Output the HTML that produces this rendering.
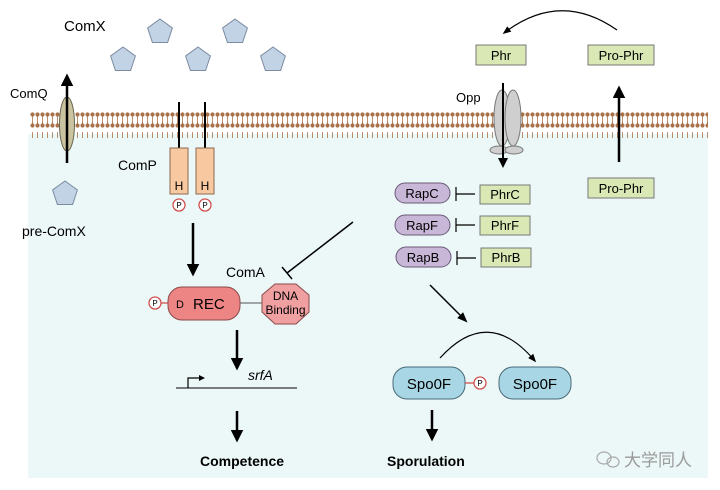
<!DOCTYPE html>
<html><head><meta charset="utf-8"><style>
body{margin:0;background:#fff}
svg{display:block;font-family:"Liberation Sans","Noto Sans CJK SC",sans-serif}
</style></head><body>
<svg width="720" height="490" viewBox="0 0 720 490" xmlns="http://www.w3.org/2000/svg">
<defs>
<pattern id="lipT" x="0" y="0" width="5" height="16" patternUnits="userSpaceOnUse">
<circle cx="2.5" cy="2.5" r="2.1" fill="#a8724a"/><line x1="2.5" y1="4" x2="2.5" y2="12" stroke="#a8724a" stroke-width="0.8"/>
</pattern>
<pattern id="lipB" x="0" y="0" width="5" height="16" patternUnits="userSpaceOnUse">
<circle cx="2.5" cy="13.5" r="2.1" fill="#a8724a"/><line x1="2.5" y1="4" x2="2.5" y2="12" stroke="#a8724a" stroke-width="0.8"/>
</pattern>
<marker id="ah" viewBox="0 0 10 10" refX="8" refY="5" markerWidth="5" markerHeight="5" orient="auto"><path d="M0,0L10,5L0,10z" fill="#000"/></marker>
<marker id="ahs" viewBox="0 0 10 10" refX="8" refY="5" markerWidth="7" markerHeight="7" orient="auto"><path d="M0,1L10,5L0,9z" fill="#000"/></marker>
<polygon id="pent" points="0,-13 12.4,-4 7.6,10.5 -7.6,10.5 -12.4,-4" fill="#c3d3e6" stroke="#7b8ba0" stroke-width="1"/>
</defs>
<rect x="28" y="134" width="680" height="344" fill="#ebf8f7"/>
<rect x="30" y="111" width="678" height="16" fill="url(#lipT)"/>
<rect x="30" y="122" width="678" height="16" fill="url(#lipB)"/>

<text x="64" y="31" font-size="15">ComX</text>
<use href="#pent" x="160" y="32"/><use href="#pent" x="235" y="32"/>
<use href="#pent" x="123" y="60"/><use href="#pent" x="198" y="60"/><use href="#pent" x="273" y="60"/>
<text x="10" y="98" font-size="13">ComQ</text>
<ellipse cx="67" cy="124" rx="7.5" ry="27" fill="#c9c3a0" stroke="#6b6650"/>
<line x1="67" y1="163" x2="67" y2="76" stroke="#000" stroke-width="2.5" marker-end="url(#ah)"/>
<use href="#pent" x="65" y="194"/>
<text x="22" y="236" font-size="14">pre-ComX</text>

<text x="118" y="170" font-size="14">ComP</text>
<line x1="179" y1="102" x2="179" y2="148" stroke="#000" stroke-width="2"/>
<line x1="205" y1="102" x2="205" y2="148" stroke="#000" stroke-width="2"/>
<rect x="170" y="148" width="18" height="46" fill="#f8c8a0" stroke="#8a6a50"/>
<rect x="196" y="148" width="18" height="46" fill="#f8c8a0" stroke="#8a6a50"/>
<text x="179" y="190" font-size="12" text-anchor="middle">H</text>
<text x="205" y="190" font-size="12" text-anchor="middle">H</text>
<g fill="#fff" stroke="#d05050" stroke-width="1.3"><circle cx="179" cy="205" r="6"/><circle cx="205" cy="205" r="6"/></g>
<g font-size="8" text-anchor="middle"><text x="179" y="208">P</text><text x="205" y="208">P</text></g>
<line x1="193" y1="223" x2="193" y2="274" stroke="#000" stroke-width="2.5" marker-end="url(#ah)"/>

<text x="226" y="277" font-size="14">ComA</text>
<line x1="353" y1="222" x2="287" y2="273" stroke="#000" stroke-width="1.5"/>
<line x1="282" y1="267" x2="292" y2="279" stroke="#000" stroke-width="1.5"/>
<circle cx="155" cy="303" r="6" fill="#fff" stroke="#d05050" stroke-width="1.3"/>
<text x="155" y="306" font-size="8" text-anchor="middle">P</text>
<line x1="161" y1="303" x2="168" y2="303" stroke="#d05050" stroke-width="1.3"/>
<rect x="168" y="287" width="72" height="33" rx="14" fill="#ee8585" stroke="#8a4a4a"/>
<text x="176" y="308" font-size="11">D</text>
<text x="193" y="309" font-size="15">REC</text>
<line x1="240" y1="303" x2="262" y2="303" stroke="#555"/>
<polygon points="262,295 275,284 296,284 309,295 309,312 296,324 275,324 262,312" fill="#f0a0a0" stroke="#8a4a4a"/>
<text x="285.5" y="300" font-size="12" text-anchor="middle">DNA</text>
<text x="285.5" y="314" font-size="12" text-anchor="middle">Binding</text>
<line x1="237" y1="330" x2="237" y2="368" stroke="#000" stroke-width="2.5" marker-end="url(#ah)"/>
<text x="248" y="380" font-size="14" font-style="italic">srfA</text>
<line x1="176" y1="388" x2="297" y2="388" stroke="#333" stroke-width="1.3"/>
<polyline points="188,388 188,378 200,378" fill="none" stroke="#000" stroke-width="1.2"/>
<path d="M199,375L205,378L199,381z" fill="#000"/>
<line x1="237" y1="411" x2="237" y2="440" stroke="#000" stroke-width="2.5" marker-end="url(#ah)"/>
<text x="200" y="466" font-size="14" font-weight="bold">Competence</text>

<path d="M617,30 Q560,-10 504,33" fill="none" stroke="#000" stroke-width="1.2" marker-end="url(#ahs)"/>
<rect x="476" y="45" width="50" height="20" fill="#d9e8b5" stroke="#777"/>
<text x="501" y="60" font-size="13" text-anchor="middle">Phr</text>
<rect x="588" y="45" width="66" height="20" fill="#d9e8b5" stroke="#777"/>
<text x="621" y="60" font-size="13" text-anchor="middle">Pro-Phr</text>
<text x="456" y="102" font-size="13">Opp</text>
<g fill="#cfcfcf" stroke="#777">
<ellipse cx="499" cy="150" rx="9" ry="4"/><ellipse cx="514" cy="150" rx="9" ry="4"/>
<ellipse cx="502" cy="118" rx="8" ry="28"/><ellipse cx="513" cy="118" rx="8" ry="28"/>
</g>
<line x1="503" y1="83" x2="503" y2="166" stroke="#000" stroke-width="2" marker-end="url(#ah)"/>
<line x1="619" y1="162" x2="619" y2="88" stroke="#000" stroke-width="2.5" marker-end="url(#ah)"/>
<rect x="588" y="178" width="66" height="20" fill="#d9e8b5" stroke="#777"/>
<text x="621" y="193" font-size="13" text-anchor="middle">Pro-Phr</text>

<g font-size="13" text-anchor="middle">
<rect x="395" y="183" width="55" height="20" rx="10" fill="#c9b7d8" stroke="#6a5a7a"/><text x="422" y="198">RapC</text>
<rect x="395" y="215" width="55" height="20" rx="10" fill="#c9b7d8" stroke="#6a5a7a"/><text x="422" y="230">RapF</text>
<rect x="396" y="247" width="55" height="20" rx="10" fill="#c9b7d8" stroke="#6a5a7a"/><text x="423" y="262">RapB</text>
<rect x="480" y="185" width="50" height="19" fill="#d9e8b5" stroke="#777"/><text x="505" y="199">PhrC</text>
<rect x="480" y="216" width="50" height="19" fill="#d9e8b5" stroke="#777"/><text x="505" y="230">PhrF</text>
<rect x="481" y="248" width="50" height="19" fill="#d9e8b5" stroke="#777"/><text x="506" y="262">PhrB</text>
</g>
<g stroke="#000" stroke-width="1.2">
<line x1="456" y1="194" x2="475" y2="194"/><line x1="456" y1="187" x2="456" y2="201"/>
<line x1="456" y1="225" x2="475" y2="225"/><line x1="456" y1="218" x2="456" y2="232"/>
<line x1="457" y1="258" x2="476" y2="258"/><line x1="457" y1="251" x2="457" y2="265"/>
</g>
<line x1="430" y1="285" x2="466" y2="321" stroke="#000" stroke-width="1.5" marker-end="url(#ahs)"/>

<path d="M440,358 Q488,305 535,361" fill="none" stroke="#000" stroke-width="1.2" marker-end="url(#ahs)"/>
<rect x="393" y="367" width="72" height="32" rx="14" fill="#a8d6e4" stroke="#4a6a7a"/>
<text x="429" y="389" font-size="15" text-anchor="middle">Spo0F</text>
<line x1="465" y1="383" x2="474" y2="383" stroke="#d05050" stroke-width="1.3"/>
<circle cx="480" cy="383" r="6" fill="#fff" stroke="#d05050" stroke-width="1.3"/>
<text x="480" y="386" font-size="8" text-anchor="middle">P</text>
<rect x="499" y="367" width="72" height="32" rx="14" fill="#a8d6e4" stroke="#4a6a7a"/>
<text x="535" y="389" font-size="15" text-anchor="middle">Spo0F</text>
<line x1="432" y1="410" x2="432" y2="439" stroke="#000" stroke-width="2.5" marker-end="url(#ah)"/>
<text x="387" y="466" font-size="14" font-weight="bold">Sporulation</text>

<g fill="none" stroke="#aaa" stroke-width="1.2"><ellipse cx="604" cy="458" rx="7" ry="6"/><ellipse cx="613" cy="462" rx="6" ry="5"/></g>
<text x="624" y="466" font-size="17" fill="#9a9a9a">大学同人</text>
</svg>
</body></html>
